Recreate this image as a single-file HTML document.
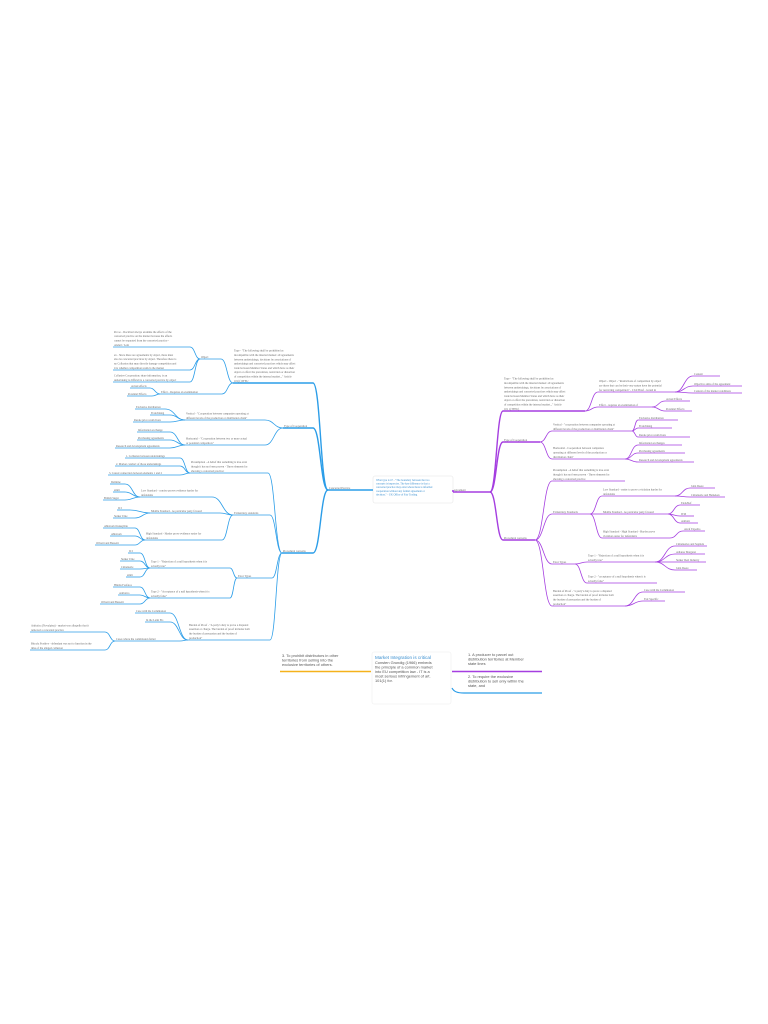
<!DOCTYPE html>
<html><head><meta charset="utf-8"><style>
html,body{margin:0;padding:0;background:#fff;width:768px;height:1024px;overflow:hidden}
svg{position:absolute;left:0;top:0}
text{font-family:"Liberation Serif",serif;fill:#6a6a6a}
.b text{font-family:"Liberation Sans",sans-serif}
</style></head><body>
<svg id="s" width="768" height="1024" viewBox="0 0 768 1024" xmlns="http://www.w3.org/2000/svg">
<rect x="373" y="476" width="80" height="27" rx="2" fill="#fff" stroke="#e6e6e6" stroke-width="0.6"/>
<text x="376" y="481" font-size="2.7" style="fill:#3a8fd0">What type is it? - "The boundary between the two</text>
<text x="376" y="484.6" font-size="2.7" style="fill:#3a8fd0">concepts is imprecise. The key difference is that a</text>
<text x="376" y="488.2" font-size="2.7" style="fill:#3a8fd0">concerted practice may exist where there is informal</text>
<text x="376" y="491.8" font-size="2.7" style="fill:#3a8fd0">cooperation without any formal agreement or</text>
<text x="376" y="495.4" font-size="2.7" style="fill:#3a8fd0">decision." - UK Office of Fair Trading</text>

<rect x="372" y="652" width="79" height="52" rx="2" fill="#fff" stroke="#eeeeee" stroke-width="0.6"/>
<g class="b">
<text x="375" y="659" font-size="4.6" style="fill:#3a8fd0">Market Integration is critical</text>
<text x="375" y="664" font-size="3.9" style="fill:#555">Consten Grundig (1966) embeds</text>
<text x="375" y="668.5" font-size="3.9" style="fill:#555">the principle of a common market</text>
<text x="375" y="673" font-size="3.9" style="fill:#555">into EU competition law - IT is a</text>
<text x="375" y="677.5" font-size="3.9" style="fill:#555">most serious infringement of art.</text>
<text x="375" y="682" font-size="3.9" style="fill:#555">101(1) for.</text>
<text x="282" y="657" font-size="3.9" style="fill:#555">3. To prohibit distributors in other</text>
<text x="282" y="661.5" font-size="3.9" style="fill:#555">territories from selling into the</text>
<text x="282" y="666" font-size="3.9" style="fill:#555">exclusive territories of others.</text>
<text x="468" y="656" font-size="3.9" style="fill:#555">1. A producer to parcel out</text>
<text x="468" y="660.5" font-size="3.9" style="fill:#555">distribution territories at Member</text>
<text x="468" y="665" font-size="3.9" style="fill:#555">state lines</text>
<text x="468" y="678" font-size="3.9" style="fill:#555">2. To require the exclusive</text>
<text x="468" y="682.5" font-size="3.9" style="fill:#555">distribution to sell only within the</text>
<text x="468" y="687" font-size="3.9" style="fill:#555">state, and</text>
</g>
<path d="M280 671.5 L371 671.5" stroke="#f5b21c" stroke-width="1.4" fill="none"/>
<path d="M452 671.5 L542 671.5" stroke="#a53ee0" stroke-width="1.4" fill="none"/>
<path d="M452 688 C454 692 458 693 464 693 L542 693" stroke="#2b9de8" stroke-width="1.2" fill="none"/>
<g id="g"></g>
</svg>
<script>
var S='http://www.w3.org/2000/svg',G=document.getElementById('g');
function el(t,a,txt){var e=document.createElementNS(S,t);for(var k in a)e.setAttribute(k,a[k]);if(txt)e.textContent=txt;G.appendChild(e);return e;}
function tree(nodes,col,side,root){
 var m={};
 nodes.forEach(function(n){
  var o={id:n[0],x1:n[1],x2:n[2],y:n[3],t:n[4],p:n[5],w:n[6]||0.8};m[o.id]=o;
  var p=o.p==='R'?root:m[o.p];
  var ax,bx;
  if(side<0){ax=p.x1;bx=o.x2;}else{ax=p.x2;bx=o.x1;}
  var mx=(ax+bx)/2;
  el('path',{d:'M'+ax+' '+p.y+' C'+mx+' '+p.y+' '+mx+' '+o.y+' '+bx+' '+o.y,stroke:col,'stroke-width':o.w,fill:'none'});
  el('path',{d:'M'+o.x1+' '+o.y+' L'+o.x2+' '+o.y,stroke:col,'stroke-width':o.w,fill:'none'});
  var L=o.t.split('|');
  for(var i=0;i<L.length;i++){el('text',{x:o.x1+1,y:o.y-1.2-(L.length-1-i)*4.3,'font-size':2.8},L[i]);}
 });
}
var typeTxt="Type - \"The following shall be prohibited as|incompatible with the internal market: all agreements|between undertakings, decisions by associations of|undertakings and concerted practices which may affect|trade between Member States and which have as their|object or effect the prevention, restriction or distortion|of competition within the internal market...\" Article|101(1)TFEU";
tree([
 ['cp',328,373,490,'Concerted Practice','R',1.6],
 ['ty',233,313,383,typeTxt,'cp',1.4],
 ['ob',200,221,359,'Object','ty'],
 ['o1',113,190,347,'Per se - Doctrinal always examine the effects of the|concerted practice on the market because the effects|cannot be separated from the concerted practice -|Anderl / Lent','ob'],
 ['o2',113,190,370,'ex - Since there are agreements by object, there must|also be concerted practices by object. Therefore there is|no Collusion that may directly damage competition and|it is whether competition restricts the market','ob'],
 ['o3',113,190,382,'Collusive Cooperation: share information, is an|undertaking is difficult is a concerted practice by object','ob'],
 ['ef',160,222,394,'Effect - Requires an examination','ty'],
 ['e1',130,150,388,'Actual effects','ef'],
 ['e2',127,152,396,'Potential Effects','ef'],
 ['tc',283,313,428,'Type of Cooperation','cp',1.4],
 ['ve',185,265,420,'Vertical - "Cooperation between companies operating at|different levels of the production or distribution chain"','tc'],
 ['v1',135,165,409,'Exclusive distribution','ve'],
 ['v2',150,170,415,'Franchising','ve'],
 ['v3',133,170,422,'Resale price restrictions','ve'],
 ['ho',185,265,445,'Horizontal - "Cooperation between two or more actual|or potential competitors"','tc'],
 ['h1',137,170,432,'Information exchange','ho'],
 ['h2',137,170,440,'Purchasing agreements','ho'],
 ['h3',115,170,448,'Research and development agreements','ho'],
 ['pc',282,313,553,'Procedural concerns','cp',1.4],
 ['pr',190,268,473,'Presumption - A belief that something is true even|though it has not been proven - Three elements for|showing a concerted practice:','pc'],
 ['p1',125,180,458,'1. Collusion between undertakings','pr'],
 ['p2',115,180,466,'2. Market conduct of those undertakings','pr'],
 ['p3',108,180,475,'3. Causal connection between elements 1 and 2','pr'],
 ['es',233,270,515,'Evidentiary standards','pc'],
 ['ls',140,212,497,'Low Standard - concise proves evidence harder for|defendants','es'],
 ['l1',110,125,484,'Dalmine','ls'],
 ['l2',113,125,492,'ainili','ls'],
 ['l3',103,125,500,'British Sugar','ls'],
 ['ms',150,220,513,'Middle Standard - no particular party favored','es'],
 ['m1',117,130,510,'ICI','ms'],
 ['m2',113,135,518,'Suiker Unie','ms'],
 ['hs',145,222,540,'High Standard - Harder prove evidence easier for|defendants','es'],
 ['s1',103,135,528,'Ahlstrom Osakeyhtio','hs'],
 ['s2',110,135,536,'Ahlstrom','hs'],
 ['s3',95,135,545,'Olivetti and Bassetti','hs'],
 ['et',237,272,578,'Error Types','pc'],
 ['t1',150,230,568,'Type 1 - "Rejection of a null hypothesis when it is|actually true"','et'],
 ['a1',128,140,553,'ICI','t1'],
 ['a2',120,140,561,'Suiker Unie','t1'],
 ['a3',120,140,569,'Cimenterie','t1'],
 ['a4',126,140,577,'ainili','t1'],
 ['t2',150,230,598,'Type 2 - "Acceptance of a null hypothesis when it is|actually false"','et'],
 ['b1',113,140,587,'Hüntia Fosfatos','t2'],
 ['b2',118,140,595,'Adriatica','t2'],
 ['b3',100,140,604,'Olivetti and Bassetti','t2'],
 ['bp',188,270,640,'Burden of Proof - "A party\'s duty to prove a disputed|assertion or charge. The burden of proof includes both|the burden of persuasion and the burden of|production"','pc'],
 ['c1',135,170,613,'Case with the Commission','bp'],
 ['c2',145,170,622,'In the Latin Els','bp'],
 ['c3',115,180,641,'Cases where the commission failed','bp'],
 ['d1',30,105,632,'Adriatica (Novalpina) - market was allegedly that it|removed a concerted practice','c3'],
 ['d2',30,105,650,'Bitoola Positive - defendant was not to function in the|time of the alleged collusion','c3']
],'#2b9de8',-1,{x1:373,x2:453,y:490});
var typeR="Type - \"The following shall be prohibited as|incompatible with the internal market: all agreements|between undertakings, decisions by associations of|undertakings and concerted practices which may affect|trade between Member States and which have as their|object or effect the prevention, restriction or distortion|of competition within the internal market...\" Article|101 1(TFEU)";
tree([
 ['ag',453,490,492,'agreement','R',1.6],
 ['ty',503,585,411,typeR,'ag',1.4],
 ['ob',598,675,392,'Object - Object - "Restrictions of competition by object|are those that can by their very nature have the potential|for restricting competition" - Civil Brief - Grand in','ty'],
 ['o1',693,720,376,'Content','ob'],
 ['o2',693,742,386,'Objective aims of the agreement','ob'],
 ['o3',693,742,393,'Context of the market conditions','ob'],
 ['ef',598,652,407,'Effect - requires an examination of','ty'],
 ['e1',665,690,401,'Actual Effects','ef'],
 ['e2',665,692,411,'Potential Effects','ef'],
 ['tc',503,540,442,'Type of Cooperation','ag',1.4],
 ['ve',552,632,431,'Vertical - "cooperation between companies operating at|different levels of the production or distribution chain"','tc'],
 ['v1',638,678,420,'Exclusive distribution','ve'],
 ['v2',638,672,428,'Franchising','ve'],
 ['v3',638,690,437,'Resale price restrictions','ve'],
 ['ho',552,625,459,'Horizontal - Cooperation between companies|operating at different levels of the production or|distribution chain"','tc'],
 ['h1',638,682,445,'Information exchanges','ho'],
 ['h2',638,685,453,'Purchasing agreements','ho'],
 ['h3',638,694,462,'Research and development agreements','ho'],
 ['pc',503,535,540,'Procedural concerns','ag',1.4],
 ['pr',552,625,481,'Presumption - A belief that something is true even|though it has not been proven - Three elements for|showing a concerted practice','pc'],
 ['es',552,590,514,'Evidentiary Standards','pc'],
 ['ls',602,675,496,'Low Standard - easier to prove a violation harder for|defendants','es'],
 ['l1',690,715,488,'John Deere','ls'],
 ['l2',690,725,497,'Cimenterie and Heineken','ls'],
 ['ms',602,668,514,'Middle Standard - no particular party favored','es'],
 ['m1',680,700,505,'Ends/Ref','ms'],
 ['m2',680,694,516,'ITM','ms'],
 ['m3',680,698,523,'Adriatic','ms'],
 ['hs',602,670,538,'High Standard - High Standard - Harder prove|violation easier for defendants','es'],
 ['s1',683,705,531,'Azraf Expedio','hs'],
 ['et',552,575,564,'Error Types','pc'],
 ['t1',587,655,562,'Type 1 - "Rejection of a null hypothesis when it is|actually true"','et'],
 ['a1',675,707,546,'Cimenteries and Sapinda','t1'],
 ['a2',675,705,554,'Adlanor Margaret','t1'],
 ['a3',675,706,562,'Suiker Iberi Industry','t1'],
 ['a4',675,697,570,'John Deere','t1'],
 ['t2',587,657,583,'Type 2 - "acceptance of a null hypothesis when it is|actually false"','et'],
 ['bp',552,625,606,'Burden of Proof - "a party\'s duty to prove a disputed|assertion or charge. The burden of proof includes both|the burden of persuasion and the burden of|production"','pc'],
 ['c1',643,685,592,'Case with the Commission','bp'],
 ['c2',643,665,601,'Fair Specific','bp']
],'#a53ee0',1,{x1:373,x2:453,y:490});
</script>
</body></html>
